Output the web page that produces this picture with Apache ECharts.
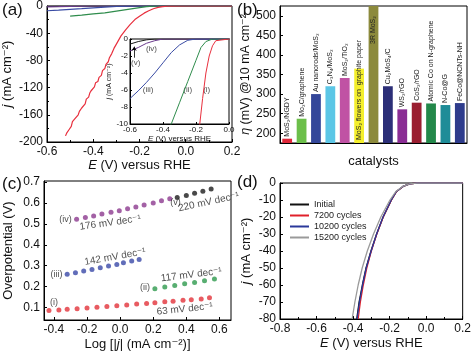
<!DOCTYPE html>
<html>
<head>
<meta charset="utf-8">
<script src="https://cdn.jsdelivr.net/npm/echarts@6/dist/echarts.min.js"></script>
<style>
  html, body { margin: 0; padding: 0; background: #fff; }
  #chart { width: 474px; height: 353px; }
</style>
</head>
<body>
<div id="chart"></div>
<script>
const FONT = '"Liberation Sans", Arial, "DejaVu Sans", sans-serif'

// ====== (a) polarization curves [E (V), j (mA cm-2)] ======
const curveI = [
  [0.2, 0], [0, 0], [-0.08, -0.2], [-0.1, -0.8], [-0.12, -2], [-0.14, -4], [-0.16, -7],
  [-0.18, -10.5], [-0.2, -15], [-0.22, -20], [-0.24, -27], [-0.26, -35], [-0.28, -44],
  [-0.3, -56], [-0.31, -62], [-0.32, -70], [-0.33, -76], [-0.335, -82], [-0.345, -86],
  [-0.35, -92], [-0.36, -95], [-0.365, -102], [-0.375, -105], [-0.38, -111], [-0.39, -113],
  [-0.395, -119], [-0.4, -118], [-0.41, -125], [-0.415, -128], [-0.42, -134], [-0.43, -137],
  [-0.435, -144], [-0.44, -142], [-0.45, -150], [-0.46, -155], [-0.465, -160], [-0.47, -158],
  [-0.48, -166], [-0.49, -170], [-0.495, -177], [-0.5, -176], [-0.505, -182], [-0.51, -181],
  [-0.515, -187], [-0.52, -191]
]
const curveII = [
  [0.2, 0], [-0.1, 0], [-0.14, -0.3], [-0.17, -1], [-0.2, -2.5], [-0.25, -5],
  [-0.3, -7.5], [-0.35, -10], [-0.4, -11.6], [-0.45, -13.4], [-0.5, -15]
]
const curveIII = [
  [0.2, 0], [-0.2, 0], [-0.25, -0.15], [-0.3, -0.7], [-0.35, -1.6], [-0.4, -2.8],
  [-0.45, -4], [-0.5, -5.1], [-0.55, -6.1], [-0.6, -7]
]
const curveIV = [
  [0.2, 0], [-0.4, 0], [-0.45, -0.2], [-0.5, -0.5], [-0.55, -1.0], [-0.6, -1.4]
]
const curveV = [
  [0.2, 0], [-0.45, 0], [-0.5, -0.1], [-0.55, -0.3], [-0.6, -0.6]
]
// inset tags [E, j, text]
const insetTags = [
  [-0.47, -1.2, '(iv)'], [-0.565, -2.8, '(v)'], [-0.49, -6.0, '(iii)'],
  [-0.25, -6.0, '(ii)'], [-0.135, -6.0, '(i)']
]

// ====== (b) overpotential @10 mA cm-2 ======
const catalysts = [
  'MoS₂/NGDY', 'Mo₂C/graphene', 'Au nanorods/MoS₂', 'C₃N₄/MoS₂', 'MoS₂/TiO₂',
  'MoS₂ flowers on  graphite paper', '3R MoS₂', 'Cu₂MoS₄/C', 'WS₂/rGO', 'CoS₂/rGO',
  'Atomic Co on N-graphene', 'N-Co@G', 'FeCo@NCNTs-NH'
]
const overpotential = [186, 237, 300, 320, 341, 365, 525, 320, 261, 278, 276, 272, 277]
const barColors = [
  '#e0283a', '#6cbf4a', '#34479a', '#5cc6e6', '#c052a4', '#f4ef2c', '#8c8a3c',
  '#2c2f78', '#8a2d94', '#9a1e30', '#23884a', '#1e8c98', '#2e3c8c'
]

// ====== (c) Tafel plots [log|j|, overpotential] ======
const tafelI = [
  [-0.43, 0.085], [-0.37, 0.088], [-0.32, 0.091], [-0.26, 0.094], [-0.2, 0.098], [-0.14, 0.101],
  [-0.08, 0.105], [-0.02, 0.108], [0.04, 0.112], [0.1, 0.116], [0.16, 0.119], [0.21, 0.123],
  [0.27, 0.127], [0.32, 0.13], [0.38, 0.134], [0.43, 0.137], [0.49, 0.141], [0.54, 0.146]
]
const tafelII = [
  [0.21, 0.19], [0.27, 0.198], [0.33, 0.205], [0.39, 0.213], [0.45, 0.22], [0.51, 0.228], [0.57, 0.236]
]
const tafelIII = [
  [-0.32, 0.259], [-0.27, 0.266], [-0.22, 0.274], [-0.17, 0.282], [-0.12, 0.29],
  [-0.07, 0.298], [-0.02, 0.306], [0.02, 0.314], [0.07, 0.322], [0.115, 0.33]
]
const tafelIV = [
  [-0.263, 0.522], [-0.21, 0.53], [-0.16, 0.538], [-0.11, 0.547], [-0.055, 0.555], [-0.005, 0.563],
  [0.045, 0.572], [0.095, 0.581], [0.145, 0.59], [0.2, 0.6], [0.25, 0.61], [0.3, 0.62]
]
const tafelV = [
  [0.345, 0.626], [0.4, 0.636], [0.45, 0.646], [0.5, 0.656], [0.55, 0.667]
]
// tags [x, y, text]
const tafelTags = [
  [-0.4, 0.122, '(i)'], [0.39, 0.092, '63 mV dec⁻¹'],
  [0.15, 0.194, '(ii)'], [0.43, 0.256, '117 mV dec⁻¹'],
  [-0.385, 0.259, '(iii)'], [-0.03, 0.342, '142 mV dec⁻¹'],
  [-0.33, 0.522, '(iv)'], [-0.06, 0.505, '176 mV dec⁻¹'],
  [0.335, 0.6, '(v)'], [0.535, 0.604, '220 mV dec⁻¹']
]
const tafelTagAngles = [0, 6, 0, 7, 0, 10, 0, 8, 0, 12]

// ====== (d) stability [E, j] ======
const stabNames = ['Initial', '7200 cycles', '10200 cycles', '15200 cycles']
const stabInitial = [
  [-0.38, -80], [-0.367, -70], [-0.349, -60], [-0.329, -50], [-0.302, -40], [-0.271, -30],
  [-0.235, -20], [-0.19, -10], [-0.162, -5], [-0.126, -2], [-0.09, -0.5], [-0.05, 0], [0.2, 0]
]
const stab7200 = [
  [-0.372, -80], [-0.36, -70], [-0.344, -60], [-0.325, -50], [-0.3, -40], [-0.27, -30],
  [-0.235, -20], [-0.19, -10], [-0.162, -5], [-0.126, -2], [-0.09, -0.5], [-0.05, 0], [0.2, 0]
]
const stab10200 = [
  [-0.378, -80], [-0.365, -70], [-0.348, -60], [-0.328, -50], [-0.301, -40], [-0.271, -30],
  [-0.236, -20], [-0.191, -10], [-0.163, -5], [-0.127, -2], [-0.09, -0.5], [-0.05, 0], [0.2, 0]
]
const stab15200 = [
  [-0.405, -80], [-0.39, -70], [-0.372, -60], [-0.35, -50], [-0.322, -40], [-0.288, -30],
  [-0.248, -20], [-0.198, -10], [-0.166, -5], [-0.128, -2], [-0.09, -0.5], [-0.05, 0], [0.2, 0]
]

const chart = echarts.init(document.getElementById('chart'))

const fixed1 = v => (Math.abs(v) < 1e-9 ? 0 : v).toFixed(1)
const italic = { i: { fontStyle: 'italic', fontFamily: FONT } }

function axis(gridIndex, extra) {
  const base = {
    gridIndex,
    type: 'value',
    axisLine: { show: true, onZero: false, lineStyle: { color: '#000', width: 1 } },
    axisTick: { show: true, inside: true, length: 3, lineStyle: { color: '#000' } },
    axisLabel: { color: '#111', fontSize: 12, fontFamily: FONT, margin: 4 },
    splitLine: { show: false },
    nameLocation: 'middle',
    nameTextStyle: { color: '#111', fontSize: 13, fontFamily: FONT, rich: italic }
  }
  return Object.assign(base, extra)
}

function line(data, color, xi, yi, extra) {
  return Object.assign({
    type: 'line', data, xAxisIndex: xi, yAxisIndex: yi,
    showSymbol: false, symbol: 'none', clip: true, animation: false,
    lineStyle: { color, width: 1.2 }, itemStyle: { color }
  }, extra || {})
}

function dots(data, color) {
  return {
    type: 'scatter', data, xAxisIndex: 3, yAxisIndex: 3,
    symbolSize: 5, itemStyle: { color }, animation: false
  }
}

const aCurves = [
  [curveV, '#1a1a1a'], [curveIV, '#6a3a8c'], [curveIII, '#3a4ca4'],
  [curveII, '#2f8c4c'], [curveI, '#e8303e']
]

const series = []
aCurves.forEach(([d, c]) => series.push(line(d, c, 0, 0)))
aCurves.forEach(([d, c]) => series.push(line(d, c, 1, 1, { lineStyle: { color: c, width: 1 } })))

// inset tags and the (v) arrow
series.push({
  type: 'scatter', xAxisIndex: 1, yAxisIndex: 1, symbolSize: 0, animation: false,
  data: insetTags.map(t => ({ value: [t[0], t[1]], name: t[2] })),
  label: { show: true, position: 'inside', formatter: p => p.name, color: '#222', fontSize: 8, fontFamily: FONT },
  markLine: {
    silent: true, symbol: ['none', 'arrow'], symbolSize: 4, label: { show: false },
    lineStyle: { color: '#000', width: 0.8, type: 'solid' },
    data: [[{ coord: [-0.575, -2.2] }, { coord: [-0.575, -0.9] }]]
  }
})

// (b) bars
series.push({
  type: 'bar', xAxisIndex: 2, yAxisIndex: 2, barWidth: '68%', animation: false,
  data: overpotential.map((v, i) => {
    let label = { position: 'top', rotate: 90, align: 'left', verticalAlign: 'middle', distance: 2 }
    if (i === 5) label = { position: 'insideBottom', rotate: 90, align: 'left', verticalAlign: 'middle', distance: 3 }
    if (i === 6) label = { position: 'insideTop', rotate: 90, align: 'right', verticalAlign: 'middle', distance: 10 }
    return { value: v, itemStyle: { color: barColors[i] }, label }
  }),
  label: {
    show: true, formatter: p => catalysts[p.dataIndex],
    color: '#222', fontSize: 7, fontFamily: FONT
  }
})

// (c) Tafel
series.push(dots(tafelI, '#e2323a'))
series.push(dots(tafelII, '#2e9a4e'))
series.push(dots(tafelIII, '#3a48a8'))
series.push(dots(tafelIV, '#8c3a8e'))
series.push(dots(tafelV, '#1c1c1c'))
series.push({
  type: 'scatter', xAxisIndex: 3, yAxisIndex: 3, symbolSize: 0, animation: false,
  data: tafelTags.map((t, i) => ({
    value: [t[0], t[1]], name: t[2],
    label: { rotate: tafelTagAngles[i], fontSize: t[2].startsWith('(') ? 9 : 10 }
  })),
  label: { show: true, position: 'inside', formatter: p => p.name, color: '#222', fontFamily: FONT }
})

// (d) stability
const stabData = [stabInitial, stab7200, stab10200, stab15200]
const stabColors = ['#111111', '#e0202a', '#2a389a', '#9a9a9a']
stabData.forEach((d, i) => series.push(line(d, stabColors[i], 4, 4, { name: stabNames[i], lineStyle: { color: stabColors[i], width: 1.3 } })))

const option = {
  backgroundColor: '#fff',
  animation: false,
  textStyle: { fontFamily: FONT },
  grid: [
    { left: 47, top: 6, width: 185, height: 136, show: true, borderColor: '#000', borderWidth: 1, backgroundColor: 'transparent' },
    { left: 130, top: 39, width: 99, height: 85, show: true, borderColor: '#000', borderWidth: 1, backgroundColor: '#fff' },
    { left: 280, top: 6, width: 187, height: 137, show: true, borderColor: '#000', borderWidth: 1 },
    { left: 44, top: 181, width: 187, height: 139, show: true, borderColor: '#000', borderWidth: 1 },
    { left: 280, top: 183, width: 186, height: 136, show: true, borderColor: '#000', borderWidth: 1 }
  ],
  xAxis: [
    axis(0, {
      min: -0.6, max: 0.2, interval: 0.2,
      axisLabel: { color: '#111', fontSize: 12, fontFamily: FONT, margin: 4, formatter: fixed1 },
      minorTick: { show: true, splitNumber: 2, length: 2 },
      name: '{i|E} (V) versus RHE', nameGap: 17
    }),
    axis(1, {
      min: -0.6, max: 0, interval: 0.2,
      axisTick: { show: true, inside: true, length: 2, lineStyle: { color: '#000' } },
      axisLabel: { color: '#111', fontSize: 8, fontFamily: FONT, margin: 2, formatter: fixed1 },
      name: '{i|E} (V) versus RHE', nameGap: 10,
      nameTextStyle: { color: '#111', fontSize: 8, fontFamily: FONT, rich: { i: { fontStyle: 'italic', fontSize: 8 } } }
    }),
    axis(2, {
      type: 'category', data: catalysts,
      axisTick: { show: true, inside: true, length: 3, alignWithLabel: true, lineStyle: { color: '#000' } },
      axisLabel: { show: false },
      name: 'catalysts', nameGap: 12
    }),
    axis(3, {
      min: -0.46, max: 0.67,
      axisTick: { show: true, inside: true, length: 3, customValues: [-0.4, -0.2, 0, 0.2, 0.4, 0.6], lineStyle: { color: '#000' } },
      axisLabel: { color: '#111', fontSize: 12, fontFamily: FONT, margin: 4, formatter: fixed1, customValues: [-0.4, -0.2, 0, 0.2, 0.4, 0.6] },
      name: 'Log [|{i|j}| (mA cm⁻²)]', nameGap: 18
    }),
    axis(4, {
      min: -0.8, max: 0.2, interval: 0.2,
      axisLabel: { color: '#111', fontSize: 12, fontFamily: FONT, margin: 4, formatter: fixed1 },
      minorTick: { show: true, splitNumber: 2, length: 2 },
      name: '{i|E} (V) versus RHE', nameGap: 18
    })
  ],
  yAxis: [
    axis(0, {
      min: -200, max: 0, interval: 40,
      minorTick: { show: true, splitNumber: 2, length: 2 },
      name: '{i|j} (mA cm⁻²)', nameGap: 33
    }),
    axis(1, {
      min: -10, max: 0, interval: 2,
      axisTick: { show: true, inside: true, length: 2, lineStyle: { color: '#000' } },
      axisLabel: { color: '#111', fontSize: 8, fontFamily: FONT, margin: 2 },
      name: '{i|j} (mA cm⁻²)', nameGap: 12,
      nameTextStyle: { color: '#111', fontSize: 7, fontFamily: FONT, rich: { i: { fontStyle: 'italic', fontSize: 7 } } }
    }),
    axis(2, {
      min: 175, max: 525,
      axisTick: { show: true, inside: true, length: 3, customValues: [200, 250, 300, 350, 400, 450, 500], lineStyle: { color: '#000' } },
      axisLabel: { color: '#111', fontSize: 12, fontFamily: FONT, margin: 4, customValues: [200, 250, 300, 350, 400, 450, 500] },
      name: '{i|η} (mV) @10 mA cm⁻²', nameGap: 27,
      nameTextStyle: { color: '#111', fontSize: 12.5, fontFamily: FONT, rich: italic }
    }),
    axis(3, {
      min: 0.04, max: 0.705,
      axisTick: { show: true, inside: true, length: 3, customValues: [0.1, 0.2, 0.3, 0.4, 0.5, 0.6, 0.7], lineStyle: { color: '#000' } },
      axisLabel: { color: '#111', fontSize: 12, fontFamily: FONT, margin: 4, formatter: fixed1, customValues: [0.1, 0.2, 0.3, 0.4, 0.5, 0.6, 0.7] },
      name: 'Overpotential (V)', nameGap: 29
    }),
    axis(4, {
      min: -80, max: 0, interval: 10,
      name: '{i|j} (mA cm⁻²)', nameGap: 27
    })
  ],
  legend: {
    data: stabNames,
    left: 285, top: 194, orient: 'vertical',
    icon: 'rect', itemWidth: 19, itemHeight: 2, itemGap: 0,
    textStyle: { fontSize: 9, color: '#222', fontFamily: FONT, lineHeight: 11 }
  },
  graphic: [
    { type: 'text', left: 2, top: 2, style: { text: '(a)', fontSize: 17, fontFamily: FONT, fill: '#111' } },
    { type: 'text', left: 237, top: 2, style: { text: '(b)', fontSize: 17, fontFamily: FONT, fill: '#111' } },
    { type: 'text', left: 2, top: 176, style: { text: '(c)', fontSize: 17, fontFamily: FONT, fill: '#111' } },
    { type: 'text', left: 237, top: 174, style: { text: '(d)', fontSize: 17, fontFamily: FONT, fill: '#111' } }
  ],
  series
}

chart.setOption(option)
</script>
</body>
</html>
